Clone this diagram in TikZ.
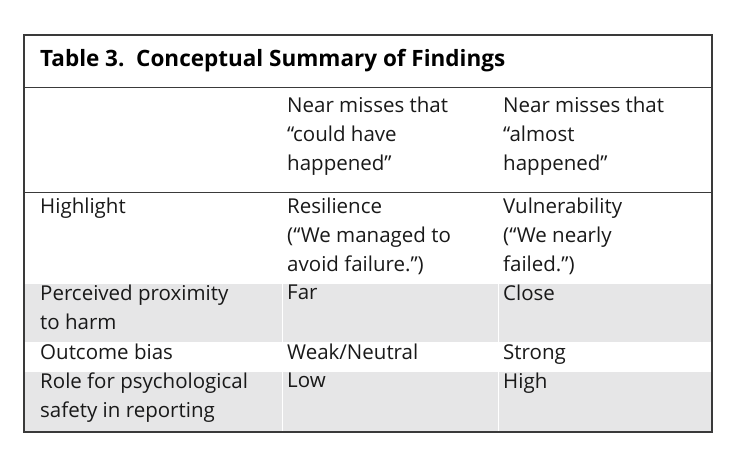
\documentclass[tikz,border=0pt]{standalone}
\usepackage{fontspec}
\setmainfont{Open Sans}
\usepackage{xcolor}
\usetikzlibrary{positioning}
\definecolor{rowgray}{HTML}{E6E6E7}
\definecolor{rule}{HTML}{3A3A3A}

\begin{document}
\begin{tikzpicture}[
        x=1pt, y=-1pt,
        cell/.style={anchor=north west, inner sep=0pt, align=left, font=\fontsize{20.5}{29}\selectfont, text=black!90},
        title/.style={anchor=west, inner sep=0pt, font=\fontsize{22.5}{28}\selectfont\bfseries},
        band/.style={fill=rowgray, draw=none}
      ]
        \useasboundingbox (0,0) rectangle (735,457);

        % Shaded rows
        \fill[band] (24,284) rectangle (712,342);
        \fill[band] (24,372) rectangle (712,432);
        \draw[white, line width=0.5pt] (282,284) -- (282,342) (282,372) -- (282,432);
        \draw[white, line width=0.5pt] (498,284) -- (498,342) (498,372) -- (498,432);

        % Frame and rules
        \draw[rule, line width=1.2pt] (24,35) rectangle (712,432);
        \draw[rule, line width=0.8pt] (24,87) -- (712,87);
        \draw[rule, line width=0.8pt] (24,192) -- (712,192);

        % Title
        \node[title] (caption) at (40,61) {Table 3.\ \ Conceptual Summary of Findings};

        % Header
        \node[cell] (hcould) at (287,97) {Near misses that\\``could have\\happened''};
        \node[cell] (halmost) at (503,97) {Near misses that\\``almost\\happened''};

        % Rows
        \node[cell] (highlight) at (40,198) {Highlight};
        \node[cell] (resil) at (287,198) {Resilience\\(``We managed to\\avoid failure.'')};
        \node[cell] (vulner) at (503,198) {Vulnerability\\(``We nearly\\failed.'')};

        \node[cell] (proximity) at (40,285) {Perceived proximity\\to harm};
        \node[cell] (far) at (287,285) {Far};
        \node[cell] (close) at (503,285) {Close};

        \node[cell] (bias) at (40,344) {Outcome bias};
        \node[cell] (weak) at (287,344) {Weak/Neutral};
        \node[cell] (strong) at (503,344) {Strong};

        \node[cell] (role) at (40,373) {Role for psychological\\safety in reporting};
        \node[cell] (low) at (287,373) {Low};
        \node[cell] (high) at (503,373) {High};
      \end{tikzpicture}
\end{document}
